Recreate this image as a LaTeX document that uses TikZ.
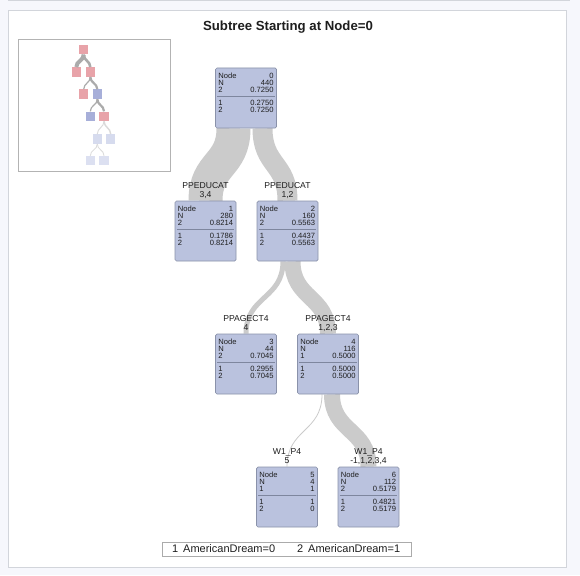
\documentclass[tikz,border=0pt]{standalone}
\usepackage{fontspec}
\setmainfont{Liberation Sans}
\definecolor{bgblue}{HTML}{F6F7FC}
\definecolor{panelline}{HTML}{D2D5DB}
\definecolor{boxfill}{HTML}{BAC2DE}
\definecolor{boxline}{HTML}{8A92AA}
\definecolor{sepc}{HTML}{7E869E}
\definecolor{ribc}{HTML}{CBCBCB}
\definecolor{pinkc}{HTML}{E8A3A9}
\definecolor{bluec}{HTML}{A7AFD9}
\definecolor{fadec}{HTML}{D6DBEE}
\definecolor{insetline}{HTML}{ABABAB}
\definecolor{insetfade}{HTML}{DADADA}
\definecolor{txt}{HTML}{1E1E1E}
\pgfdeclarelayer{back}
\pgfdeclarelayer{ribs}
\pgfsetlayers{back,ribs,main}
\tikzset{
  nbox/.style={draw=boxline, fill=boxfill, rounded corners=1.5pt, line width=0.7pt,
    minimum width=61pt, minimum height=60pt, inner sep=0pt},
  ntxt/.style={inner sep=0pt, text=txt, font=\fontsize{7.6}{9}\selectfont, text height=5.4pt, text depth=0pt},
  sepline/.style={draw=sepc, line width=0.6pt},
  lbl/.style={inner sep=0pt, text=txt, font=\fontsize{8.6}{10}\selectfont, text height=6.2pt, text depth=1.6pt},
  sq/.style={minimum size=9.5pt, inner sep=0pt},
  ilink/.style={draw=insetline},
  ifade/.style={draw=insetfade},
  legtxt/.style={inner sep=0pt, text=txt, font=\fontsize{11}{12}\selectfont, anchor=west, text height=7.9pt, text depth=0pt},
}
\newcommand\ribbon[4]{\draw[ribc, line width=#4pt] ([xshift=#3]#1.south) .. controls +(0,38) and +(0,-38) .. (#2.north);}
\newcommand\tnode[9]{%
\node[nbox] (#1) at (#2,#3+30) {};
\node[ntxt,anchor=west] (#1a) at ([xshift=3,yshift=-8]#1.north west) {Node};
\node[ntxt,anchor=east] (#1b) at ([xshift=-3,yshift=-8]#1.north east) {#4};
\node[ntxt,anchor=west] (#1c) at ([xshift=3,yshift=-15]#1.north west) {N};
\node[ntxt,anchor=east] (#1d) at ([xshift=-3,yshift=-15]#1.north east) {#5};
\node[ntxt,anchor=west] (#1e) at ([xshift=3,yshift=-22]#1.north west) {#6};
\node[ntxt,anchor=east] (#1f) at ([xshift=-3,yshift=-22]#1.north east) {#7};
\draw[sepline] ([xshift=2,yshift=-28.6]#1.north west) -- ([xshift=-2,yshift=-28.6]#1.north east);
\node[ntxt,anchor=west] (#1g) at ([xshift=3,yshift=-35.3]#1.north west) {1};
\node[ntxt,anchor=east] (#1h) at ([xshift=-3,yshift=-35.3]#1.north east) {#8};
\node[ntxt,anchor=west] (#1i) at ([xshift=3,yshift=-42.3]#1.north west) {2};
\node[ntxt,anchor=east] (#1j) at ([xshift=-3,yshift=-42.3]#1.north east) {#9};
}
\newcommand\tlabel[3]{%
\node[lbl] (#1t) at ([yshift=14.8]#1.north) {#2};
\node[lbl] (#1u) at ([yshift=5]#1.north) {#3};
}
\begin{document}
\begin{tikzpicture}[x=1pt,y=-1pt]
\useasboundingbox (0,0) rectangle (580,575);
\begin{pgfonlayer}{back}
\fill[bgblue] (0,0) rectangle (580,575);
\draw[panelline, line width=1pt] (8,0.8) -- (570,0.8);
\filldraw[fill=white, draw=panelline, line width=0.8pt] (8,10) rectangle (566,567);
\end{pgfonlayer}
% title
\node[inner sep=0pt, text=txt, font=\fontsize{13.2}{15}\selectfont\bfseries] (title) at (288,27) {Subtree Starting at Node=0};
% inset
\draw[draw=insetline!90, line width=0.8pt] (18,39) rectangle (170,171);
\node[sq, fill=pinkc] (s0) at (83.7,49.7) {};
\node[sq, fill=pinkc] (s1) at (76.3,72) {};
\node[sq, fill=pinkc] (s2) at (90.3,72) {};
\node[sq, fill=pinkc] (s3) at (83.7,94.2) {};
\node[sq, fill=bluec] (s4) at (97.3,94.2) {};
\node[sq, fill=bluec] (s5) at (90.3,116.3) {};
\node[sq, fill=pinkc] (s6) at (104,116.3) {};
\node[sq, fill=fadec] (s7) at (97.3,139) {};
\node[sq, fill=fadec] (s8) at (110.7,139) {};
\node[sq, fill=fadec!85!white] (s9) at (90.3,160.7) {};
\node[sq, fill=fadec!85!white] (s10) at (104,160.7) {};
\draw[ilink, line width=4pt] (s0.south) .. controls +(0,6) and +(0,-6) .. (s1.north);
\draw[ilink, line width=2.6pt] (s0.south) .. controls +(0,6) and +(0,-6) .. (s2.north);
\draw[ilink, line width=1.2pt] (s2.south) .. controls +(0,6) and +(0,-6) .. (s3.north);
\draw[ilink, line width=2.2pt] (s2.south) .. controls +(0,6) and +(0,-6) .. (s4.north);
\draw[ilink, line width=1.2pt] (s4.south) .. controls +(0,6) and +(0,-6) .. (s5.north);
\draw[ilink, line width=2.2pt] (s4.south) .. controls +(0,6) and +(0,-6) .. (s6.north);
\draw[ifade, line width=0.9pt] (s6.south) .. controls +(0,6) and +(0,-6) .. (s7.north);
\draw[ifade, line width=1.4pt] (s6.south) .. controls +(0,6) and +(0,-6) .. (s8.north);
\draw[ifade, line width=0.8pt] (s7.south) .. controls +(0,6) and +(0,-6) .. (s9.north);
\draw[ifade, line width=0.8pt] (s7.south) .. controls +(0,6) and +(0,-6) .. (s10.north);
% tree nodes
\tnode{n0}{246}{68}{0}{440}{2}{0.7250}{0.2750}{0.7250}
\tnode{n1}{205.5}{201}{1}{280}{2}{0.8214}{0.1786}{0.8214}
\tnode{n2}{287.5}{201}{2}{160}{2}{0.5563}{0.4437}{0.5563}
\tnode{n3}{246}{334}{3}{44}{2}{0.7045}{0.2955}{0.7045}
\tnode{n4}{328}{334}{4}{116}{1}{0.5000}{0.5000}{0.5000}
\tnode{n5}{287}{467}{5}{4}{1}{1}{1}{0}
\tnode{n6}{368.5}{467}{6}{112}{2}{0.5179}{0.4821}{0.5179}
% ribbons
\begin{pgfonlayer}{ribs}
\ribbon{n0}{n1}{-12.5}{34}
\ribbon{n0}{n2}{16.5}{20}
\ribbon{n2}{n3}{-4.5}{5}
\ribbon{n2}{n4}{5}{16}
\ribbon{n4}{n5}{-6}{0.8}
\ribbon{n4}{n6}{4}{16}
\end{pgfonlayer}
% split labels
\tlabel{n1}{PPEDUCAT}{3,4}
\tlabel{n2}{PPEDUCAT}{1,2}
\tlabel{n3}{PPAGECT4}{4}
\tlabel{n4}{PPAGECT4}{1,2,3}
\tlabel{n5}{W1\_P4}{5}
\tlabel{n6}{W1\_P4}{-1,1,2,3,4}
% legend
\node[draw=insetline, line width=0.7pt, minimum width=249pt, minimum height=14pt, inner sep=0pt] (leg) at (286.5,549) {};
\node[legtxt] (leg1) at (172,549) {1};
\node[legtxt] (leg2) at (183,549) {AmericanDream=0};
\node[legtxt] (leg3) at (297,549) {2};
\node[legtxt] (leg4) at (308,549) {AmericanDream=1};
\end{tikzpicture}
\end{document}
